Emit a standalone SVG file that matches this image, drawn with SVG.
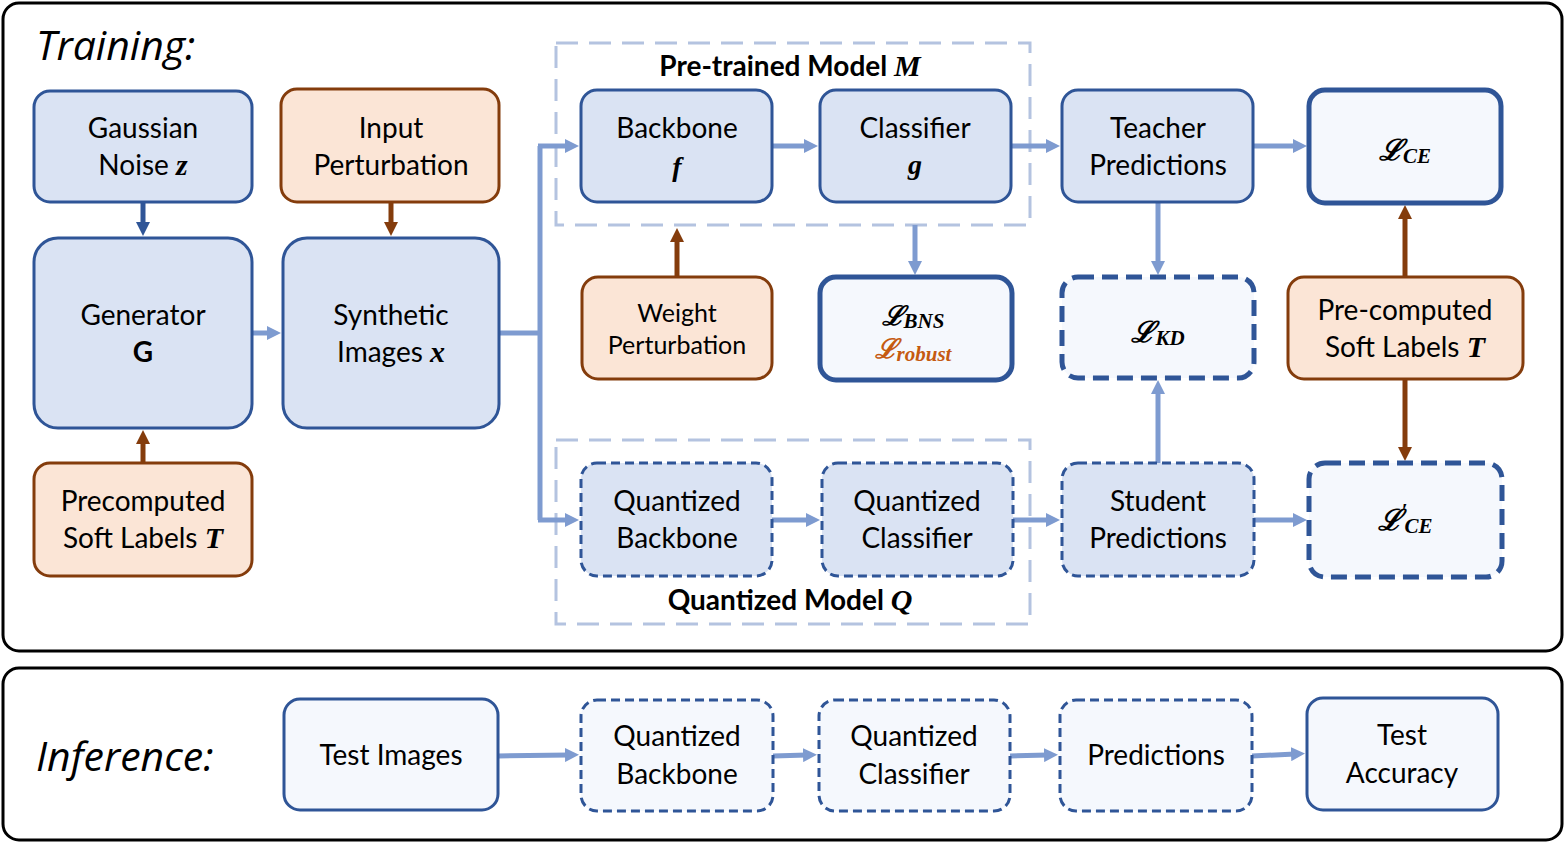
<svg xmlns="http://www.w3.org/2000/svg" width="1566" height="844" viewBox="0 0 1566 844">
<defs>
<style>
.frame{fill:#fff;stroke:#000;stroke-width:3}
.nb{fill:#dae3f3;stroke:#2f5597;stroke-width:3}
.no{fill:#fbe5d6;stroke:#843c0c;stroke-width:3}
.nl{fill:#f5f8fd;stroke:#2f5597;stroke-width:5}
.nli{fill:#f5f8fd;stroke:#2f5597;stroke-width:3}
.dq{stroke-dasharray:9 5}
.dl{stroke-dasharray:16 8}
.grp{fill:none;stroke:#b4c3e0;stroke-width:3;stroke-dasharray:22 11}
.t{font-family:Lato,"Liberation Sans",sans-serif;font-size:28px;fill:#000;text-anchor:middle}
.ts{font-size:25px}
.h{font-family:"Open Sans",Lato,sans-serif;font-size:41px;font-style:italic;fill:#000}
.g{font-family:Lato,"Liberation Sans",sans-serif;font-size:28px;font-weight:bold;fill:#000;text-anchor:middle}
.m{font-family:"Liberation Serif","DejaVu Serif",serif;font-style:italic;font-weight:bold}
.sc{font-family:"DejaVu Serif","Liberation Serif",serif;font-style:italic;font-weight:bold}
.lb{stroke:#7e9bd0;stroke-width:5;fill:none}
.db{stroke:#2f5597;stroke-width:5;fill:none}
.br{stroke:#843c0c;stroke-width:5;fill:none}
</style>
<marker id="aL" viewBox="0 0 14 14" markerWidth="14" markerHeight="14" refX="4" refY="7" orient="auto" markerUnits="userSpaceOnUse"><path d="M0,0 L14,7 L0,14 Z" fill="#7e9bd0"/></marker>
<marker id="aD" viewBox="0 0 14 14" markerWidth="14" markerHeight="14" refX="4" refY="7" orient="auto" markerUnits="userSpaceOnUse"><path d="M0,0 L14,7 L0,14 Z" fill="#2f5597"/></marker>
<marker id="aB" viewBox="0 0 14 14" markerWidth="14" markerHeight="14" refX="4" refY="7" orient="auto" markerUnits="userSpaceOnUse"><path d="M0,0 L14,7 L0,14 Z" fill="#843c0c"/></marker>
</defs>

<rect class="frame" x="3" y="3" width="1559" height="648" rx="16"/>
<rect class="frame" x="3" y="668" width="1559" height="172" rx="16"/>
<text class="h" x="36" y="60">Training:</text>
<text class="h" x="36" y="771">Inference:</text>

<g id="groups">
<rect class="grp" x="556" y="43" width="474" height="182"/>
<rect class="grp" x="556" y="440" width="474" height="184"/>
<text class="g" x="790" y="76">Pre-trained Model <tspan class="m" font-size="30">M</tspan></text>
<text class="g" x="790" y="610">Quantized Model <tspan class="m" font-size="30">Q</tspan></text>
</g>

<g id="connectors">
<line class="db" x1="143" y1="202" x2="143" y2="226" marker-end="url(#aD)"/>
<line class="br" x1="391" y1="202" x2="391" y2="226" marker-end="url(#aB)"/>
<line class="br" x1="143" y1="463" x2="143" y2="440" marker-end="url(#aB)"/>
<line class="lb" x1="252" y1="333" x2="271" y2="333" marker-end="url(#aL)"/>
<polyline class="lb" points="499,333 540,333"/>
<line class="lb" x1="540" y1="146" x2="540" y2="520"/>
<line class="lb" x1="538" y1="146" x2="569" y2="146" marker-end="url(#aL)"/>
<line class="lb" x1="538" y1="520" x2="569" y2="520" marker-end="url(#aL)"/>
<line class="lb" x1="772" y1="146" x2="808" y2="146" marker-end="url(#aL)"/>
<line class="lb" x1="1011" y1="146" x2="1050" y2="146" marker-end="url(#aL)"/>
<line class="lb" x1="1253" y1="146" x2="1297" y2="146" marker-end="url(#aL)"/>
<line class="lb" x1="915" y1="225" x2="915" y2="265" marker-end="url(#aL)"/>
<line class="br" x1="677" y1="277" x2="677" y2="238" marker-end="url(#aB)"/>
<line class="lb" x1="1158" y1="202" x2="1158" y2="265" marker-end="url(#aL)"/>
<line class="lb" x1="1158" y1="463" x2="1158" y2="390" marker-end="url(#aL)"/>
<line class="br" x1="1405" y1="277" x2="1405" y2="215" marker-end="url(#aB)"/>
<line class="br" x1="1405" y1="379" x2="1405" y2="451" marker-end="url(#aB)"/>
<line class="lb" x1="772" y1="520" x2="810" y2="520" marker-end="url(#aL)"/>
<line class="lb" x1="1013" y1="520" x2="1050" y2="520" marker-end="url(#aL)"/>
<line class="lb" x1="1254" y1="520" x2="1297" y2="520" marker-end="url(#aL)"/>
<line class="lb" x1="498" y1="756" x2="569" y2="755" marker-end="url(#aL)"/>
<line class="lb" x1="773" y1="756" x2="807" y2="755" marker-end="url(#aL)"/>
<line class="lb" x1="1010" y1="756" x2="1048" y2="755" marker-end="url(#aL)"/>
<line class="lb" x1="1252" y1="756" x2="1295" y2="754" marker-end="url(#aL)"/>
</g>

<g id="gaussian"><rect class="nb" x="34" y="91" width="218" height="111" rx="16"/>
<text class="t" x="143" y="138">Gaussian</text><text class="t" x="143" y="175">Noise <tspan class="m" font-size="30">z</tspan></text></g>

<g id="input-perturbation"><rect class="no" x="281" y="89" width="218" height="113" rx="16"/>
<text class="t" x="391" y="138">Input</text><text class="t" x="391" y="175">Perturbation</text></g>

<g id="generator"><rect class="nb" x="34" y="238" width="218" height="190" rx="24"/>
<text class="t" x="143" y="325">Generator</text><text class="t" x="143" y="362" font-weight="bold">G</text></g>

<g id="synthetic"><rect class="nb" x="283" y="238" width="216" height="190" rx="24"/>
<text class="t" x="391" y="325">Synthetic</text><text class="t" x="391" y="362">Images <tspan class="m" font-size="30">x</tspan></text></g>

<g id="precomputed-left"><rect class="no" x="34" y="463" width="218" height="113" rx="16"/>
<text class="t" x="143" y="511">Precomputed</text><text class="t" x="143" y="548">Soft Labels <tspan class="m" font-size="30">T</tspan></text></g>

<g id="backbone"><rect class="nb" x="581" y="90" width="191" height="112" rx="16"/>
<text class="t" x="677" y="138">Backbone</text><text class="t m" x="677" y="176" font-size="31">f</text></g>

<g id="classifier"><rect class="nb" x="820" y="90" width="191" height="112" rx="16"/>
<text class="t" x="915" y="138">Classifier</text><text class="t m" x="915" y="174" font-size="31">g</text></g>

<g id="teacher"><rect class="nb" x="1062" y="90" width="191" height="112" rx="16"/>
<text class="t" x="1158" y="138">Teacher</text><text class="t" x="1158" y="175">Predictions</text></g>

<g id="loss-ce"><rect class="nl" x="1309" y="90" width="192" height="113" rx="16"/>
<text class="t" x="1405" y="160"><tspan class="sc" font-size="29">ℒ</tspan><tspan class="m" font-size="21" dy="3">CE</tspan></text></g>

<g id="weight-perturbation"><rect class="no" x="582" y="277" width="190" height="102" rx="16"/>
<text class="t ts" x="677" y="322">Weight</text><text class="t ts" x="677" y="354">Perturbation</text></g>

<g id="loss-bns"><rect class="nl" x="820" y="277" width="192" height="103" rx="16"/>
<text class="t" x="913" y="325"><tspan class="sc" font-size="27">ℒ</tspan><tspan class="m" font-size="21" dy="3">BNS</tspan></text>
<text class="t" x="913" y="358" fill="#c55a11"><tspan class="sc" font-size="27" fill="#c55a11">ℒ</tspan><tspan class="m" font-size="21" dy="3" fill="#c55a11">robust</tspan></text></g>

<g id="loss-kd"><rect class="nl dl" x="1062" y="277" width="192" height="101" rx="16"/>
<text class="t" x="1158" y="342"><tspan class="sc" font-size="29">ℒ</tspan><tspan class="m" font-size="21" dy="3">KD</tspan></text></g>

<g id="precomputed-right"><rect class="no" x="1288" y="277" width="235" height="102" rx="16"/>
<text class="t" x="1405" y="320">Pre-computed</text><text class="t" x="1405" y="357">Soft Labels <tspan class="m" font-size="30">T</tspan></text></g>

<g id="q-backbone"><rect class="nb dq" x="581" y="463" width="191" height="113" rx="16"/>
<text class="t" x="677" y="511">Quantized</text><text class="t" x="677" y="548">Backbone</text></g>

<g id="q-classifier"><rect class="nb dq" x="822" y="463" width="191" height="113" rx="16"/>
<text class="t" x="917" y="511">Quantized</text><text class="t" x="917" y="548">Classifier</text></g>

<g id="student"><rect class="nb dq" x="1062" y="463" width="192" height="113" rx="16"/>
<text class="t" x="1158" y="511">Student</text><text class="t" x="1158" y="548">Predictions</text></g>

<g id="loss-ce-prime"><rect class="nl dl" x="1309" y="463" width="193" height="114" rx="16"/>
<text class="t" x="1405" y="530"><tspan class="sc" font-size="29">ℒ</tspan><tspan class="m" font-size="21" dy="-12">′</tspan><tspan class="m" font-size="21" dx="-3" dy="15">CE</tspan></text></g>

<g id="test-images"><rect class="nli" x="284" y="699" width="214" height="111" rx="16"/>
<text class="t" x="391" y="765">Test Images</text></g>

<g id="inf-q-backbone"><rect class="nli dq" x="581" y="700" width="192" height="111" rx="16"/>
<text class="t" x="677" y="746">Quantized</text><text class="t" x="677" y="784">Backbone</text></g>

<g id="inf-q-classifier"><rect class="nli dq" x="819" y="700" width="191" height="111" rx="16"/>
<text class="t" x="914" y="746">Quantized</text><text class="t" x="914" y="784">Classifier</text></g>

<g id="inf-predictions"><rect class="nli dq" x="1060" y="700" width="192" height="111" rx="16"/>
<text class="t" x="1156" y="765">Predictions</text></g>

<g id="test-accuracy"><rect class="nli" x="1307" y="698" width="191" height="112" rx="16"/>
<text class="t" x="1402" y="745">Test</text><text class="t" x="1402" y="783">Accuracy</text></g>
</svg>
